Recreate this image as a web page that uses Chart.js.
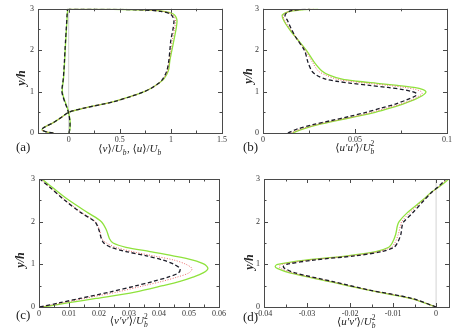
<!DOCTYPE html>
<html>
<head>
<meta charset="utf-8">
<script src="https://cdn.jsdelivr.net/npm/chart.js@4/dist/chart.umd.min.js"></script>
<style>
  html, body { margin: 0; padding: 0; background: #fff; }
  #wrap { position: relative; width: 474px; height: 335px; overflow: hidden; }
  #wrap canvas { position: absolute; }
</style>
</head>
<body>
<div id="wrap">
  <canvas id="cA" width="237" height="165" style="left:0;top:0"></canvas>
  <canvas id="cB" width="237" height="165" style="left:237px;top:0"></canvas>
  <canvas id="cC" width="237" height="170" style="left:0;top:165px"></canvas>
  <canvas id="cD" width="237" height="170" style="left:237px;top:165px"></canvas>
</div>
<script>
// ---- data ----
const yTicks = [0, 1, 2, 3];

// (a) mean velocities
const xTicksA = [0, 0.5, 1, 1.5];
const yA = [0, 0.03, 0.07, 0.12, 0.25, 0.38, 0.5, 0.6, 0.75, 0.9, 1.0, 1.1, 1.2, 1.3, 1.5, 1.75, 2.0, 2.25, 2.5, 2.7, 2.8, 2.88, 2.94, 2.97, 2.99, 3.0];
const uBlack = [-0.15, -0.22, -0.26, -0.25, -0.15, -0.07, 0.0, 0.15, 0.43, 0.63, 0.74, 0.82, 0.88, 0.92, 0.96, 0.98, 0.99, 1.0, 1.02, 1.03, 1.02, 0.99, 0.9, 0.75, 0.4, 0.0];
const uRed   = [-0.15, -0.22, -0.26, -0.25, -0.15, -0.07, 0.0, 0.15, 0.43, 0.63, 0.74, 0.82, 0.88, 0.925, 0.968, 0.985, 1.0, 1.015, 1.035, 1.045, 1.035, 1.005, 0.915, 0.76, 0.41, 0.0];
const uGreen = [-0.15, -0.22, -0.26, -0.25, -0.15, -0.07, 0.0, 0.15, 0.43, 0.63, 0.74, 0.82, 0.88, 0.93, 0.975, 0.99, 1.01, 1.03, 1.05, 1.06, 1.05, 1.02, 0.93, 0.78, 0.42, 0.0];
const vBlack = [0.003, 0.006, 0.009, 0.012, 0.013, 0.007, -0.003, -0.015, -0.038, -0.058, -0.066, -0.064, -0.058, -0.053, -0.047, -0.041, -0.036, -0.030, -0.024, -0.019, -0.017, -0.015, -0.013, -0.012, -0.010, -0.010];
const vGreen = [0.004, 0.007, 0.010, 0.013, 0.015, 0.009, -0.001, -0.012, -0.034, -0.054, -0.062, -0.061, -0.056, -0.051, -0.045, -0.039, -0.034, -0.028, -0.022, -0.017, -0.015, -0.013, -0.011, -0.010, -0.009, -0.009];

// (b) <u'u'>
const xTicksB = [0, 0.05, 0.1];
const yB = [0, 0.1, 0.2, 0.3, 0.4, 0.5, 0.6, 0.7, 0.8, 0.9, 0.95, 1.0, 1.05, 1.1, 1.15, 1.2, 1.25, 1.3, 1.4, 1.5, 1.7, 2.0, 2.3, 2.5, 2.7, 2.85, 2.95, 3.0];
const uuBlack = [0.0135, 0.019, 0.027, 0.037, 0.047, 0.056, 0.064, 0.072, 0.078, 0.083, 0.0835, 0.081, 0.076, 0.068, 0.058, 0.048, 0.040, 0.034, 0.029, 0.0265, 0.0245, 0.0225, 0.018, 0.0155, 0.0135, 0.012, 0.015, 0.025];
const uuRed   = [0.015, 0.021, 0.029, 0.039, 0.050, 0.059, 0.067, 0.075, 0.081, 0.085, 0.0865, 0.086, 0.083, 0.077, 0.068, 0.057, 0.047, 0.040, 0.034, 0.030, 0.027, 0.023, 0.018, 0.015, 0.012, 0.011, 0.0155, 0.028];
const uuGreen = [0.016, 0.022, 0.030, 0.040, 0.051, 0.061, 0.069, 0.076, 0.082, 0.0865, 0.088, 0.0885, 0.087, 0.082, 0.073, 0.062, 0.051, 0.043, 0.036, 0.032, 0.028, 0.0235, 0.018, 0.0145, 0.0115, 0.0105, 0.016, 0.030];

// (c) <v'v'>
const xTicksC = [0, 0.01, 0.02, 0.03, 0.04, 0.05, 0.06];
const yC = [0, 0.1, 0.2, 0.35, 0.5, 0.6, 0.7, 0.8, 0.9, 1.0, 1.1, 1.2, 1.3, 1.4, 1.5, 1.6, 1.8, 2.0, 2.2, 2.5, 2.8, 3.0];
const vvBlack = [0.0003, 0.007, 0.0136, 0.0236, 0.0325, 0.038, 0.043, 0.0465, 0.047, 0.045, 0.0413, 0.0358, 0.029, 0.024, 0.0216, 0.0208, 0.020, 0.0186, 0.0142, 0.0086, 0.0037, 0.0003];
const vvRed   = [0.0005, 0.008, 0.015, 0.026, 0.035, 0.041, 0.046, 0.050, 0.051, 0.049, 0.045, 0.038, 0.031, 0.0255, 0.0225, 0.021, 0.0202, 0.0188, 0.0145, 0.0088, 0.0038, 0.0003];
const vvGreen = [0.0014, 0.010, 0.019, 0.032, 0.0413, 0.047, 0.0513, 0.0547, 0.0563, 0.0552, 0.0513, 0.0447, 0.037, 0.029, 0.0247, 0.0235, 0.0225, 0.0208, 0.0165, 0.010, 0.0045, 0.001];

// (d) <u'v'>
const xTicksD = [-0.04, -0.03, -0.02, -0.01, 0];
const yD = [0, 0.2, 0.4, 0.6, 0.8, 0.9, 0.95, 1.0, 1.1, 1.2, 1.3, 1.4, 1.5, 1.7, 1.9, 2.0, 2.2, 2.5, 2.7, 2.8, 3.0];
const uvBlack = [0, -0.0055, -0.0156, -0.0242, -0.0328, -0.0351, -0.0355, -0.0347, -0.0285, -0.0188, -0.0125, -0.0098, -0.009, -0.0082, -0.0079, -0.0075, -0.0055, -0.0028, -0.0009, 0.0003, 0.0023];
const uvRed   = [0, -0.0058, -0.0158, -0.0246, -0.0334, -0.0360, -0.0365, -0.0358, -0.0295, -0.0198, -0.0132, -0.0104, -0.0096, -0.0088, -0.0083, -0.0080, -0.0062, -0.0030, -0.0008, 0.0004, 0.0026];
const uvGreen = [0, -0.006, -0.016, -0.025, -0.034, -0.0368, -0.0374, -0.0368, -0.0304, -0.0207, -0.014, -0.011, -0.0102, -0.0094, -0.009, -0.0086, -0.0068, -0.0032, -0.001, 0.0005, 0.003];

// ---- helpers ----
const SERIF = "'Liberation Serif', 'DejaVu Serif', serif";
const pts = (xs, ys) => xs.map((x, i) => ({ x: x, y: ys[i] }));

const black = data => ({ data, borderColor: '#1c1c28', borderWidth: 1.3, borderDash: [4, 2.5] });
const red = data => ({ data, borderColor: '#ea6a6a', borderWidth: 1, borderDash: [1, 1.6] });
const green = data => ({ data, borderColor: '#8fe23c', borderWidth: 1.3 });
const zeroLine = () => ({ data: [{ x: 0, y: 0 }, { x: 0, y: 3 }], borderColor: '#c8c8c8', borderWidth: 0.8, tension: 0 });

function drawRich(ctx, parts, cx, base, size) {
  const sm = size * 0.68;
  const fontOf = (it, s) => (it ? 'italic ' : '') + s + 'px ' + SERIF;
  let total = 0;
  const w = parts.map(p => {
    let pw = 0;
    if (p.t) { ctx.font = fontOf(p.it, size); pw = ctx.measureText(p.t).width; }
    else {
      ctx.font = fontOf(true, sm);
      pw = Math.max(p.sub ? ctx.measureText(p.sub).width : 0, p.sup ? ctx.measureText(p.sup).width : 0) + 0.5;
    }
    total += pw;
    return pw;
  });
  let x = cx - total / 2;
  ctx.textAlign = 'left';
  ctx.textBaseline = 'alphabetic';
  parts.forEach((p, i) => {
    if (p.t) { ctx.font = fontOf(p.it, size); ctx.fillText(p.t, x, base); }
    else {
      ctx.font = fontOf(true, sm);
      if (p.sub) ctx.fillText(p.sub, x, base + size * 0.28);
      if (p.sup) { ctx.font = fontOf(false, sm); ctx.fillText(p.sup, x, base - size * 0.42); }
    }
    x += w[i];
  });
}

// frame with inner major/minor ticks on all four sides
const frameTicks = {
  id: 'frameTicks',
  afterDatasetsDraw(chart) {
    const { ctx, chartArea: a, scales } = chart;
    ctx.save();
    ctx.strokeStyle = '#4a4a4a';
    ctx.lineWidth = 1;
    ctx.strokeRect(Math.round(a.left) + 0.5, Math.round(a.top) + 0.5, Math.round(a.right - a.left), Math.round(a.bottom - a.top));
    const marks = vals => {
      const out = [];
      vals.forEach((v, i) => {
        out.push([v, 4]);
        if (i < vals.length - 1) out.push([(v + vals[i + 1]) / 2, 2.5]);
      });
      return out;
    };
    ctx.beginPath();
    marks(scales.x.ticks.map(t => t.value)).forEach(([v, len]) => {
      const px = Math.round(scales.x.getPixelForValue(v)) + 0.5;
      ctx.moveTo(px, a.bottom); ctx.lineTo(px, a.bottom - len);
      ctx.moveTo(px, a.top); ctx.lineTo(px, a.top + len);
    });
    marks(scales.y.ticks.map(t => t.value)).forEach(([v, len]) => {
      const py = Math.round(scales.y.getPixelForValue(v)) + 0.5;
      ctx.moveTo(a.left, py); ctx.lineTo(a.left + len, py);
      ctx.moveTo(a.right, py); ctx.lineTo(a.right - len, py);
    });
    ctx.stroke();
    ctx.restore();
  }
};

// axis titles and panel letter
const panelText = {
  id: 'panelText',
  afterDraw(chart, args, o) {
    const { ctx, chartArea: a } = chart;
    ctx.save();
    ctx.fillStyle = '#222';
    ctx.save();
    ctx.translate(o.yTitleX, o.yTitleY);
    ctx.rotate(-Math.PI / 2);
    ctx.textAlign = 'center';
    ctx.textBaseline = 'middle';
    ctx.font = 'italic bold 12px ' + SERIF;
    ctx.fillText('y/h', 0, 0);
    ctx.restore();
    ctx.font = '13px ' + SERIF;
    ctx.textAlign = 'left';
    ctx.textBaseline = 'middle';
    ctx.fillText(o.letter, o.letterX, o.letterY);
    drawRich(ctx, o.title, (a.left + a.right) / 2, o.titleBase, 11);
    ctx.restore();
  }
};

function makePanel(id, cfg) {
  const tickFont = { family: SERIF, size: 8 };
  new Chart(document.getElementById(id), {
    type: 'scatter',
    data: { datasets: cfg.datasets },
    options: {
      responsive: false,
      animation: false,
      showLine: true,
      elements: { point: { radius: 0 }, line: { tension: 0.3, fill: false } },
      layout: { padding: { left: 0, top: cfg.area.t, right: cfg.w - cfg.area.r, bottom: 0 } },
      plugins: {
        legend: { display: false },
        tooltip: { enabled: false },
        panelText: cfg.text
      },
      scales: {
        x: {
          type: 'linear', min: cfg.xMin, max: cfg.xMax,
          afterBuildTicks: s => { s.ticks = cfg.xTicks.map(v => ({ value: v })); },
          afterFit: s => { s.height = cfg.h - cfg.area.b; },
          grid: { display: false, drawTicks: false },
          border: { display: false },
          ticks: { padding: 2, maxRotation: 0, color: '#333', font: tickFont, callback: v => String(+v.toFixed(3)) }
        },
        y: {
          type: 'linear', min: 0, max: 3,
          afterBuildTicks: s => { s.ticks = yTicks.map(v => ({ value: v })); },
          afterFit: s => { s.width = cfg.area.l; },
          grid: { display: false, drawTicks: false },
          border: { display: false },
          ticks: { padding: 4, color: '#333', font: tickFont, callback: v => String(v) }
        }
      }
    },
    plugins: [frameTicks, panelText]
  });
}

makePanel('cA', {
  w: 237, h: 165, area: { l: 38, r: 222, t: 4, b: 133 },
  xMin: -0.3, xMax: 1.5, xTicks: xTicksA,
  datasets: [black(pts(uBlack, yA)), black(pts(vBlack, yA)), red(pts(uRed, yA)), green(pts(uGreen, yA)), green(pts(vGreen, yA)), zeroLine()],
  text: {
    yTitleX: 22, yTitleY: 78, letter: '(a)', letterX: 16, letterY: 148, titleBase: 152,
    title: [{ t: '⟨' }, { t: 'v', it: 1 }, { t: '⟩/' }, { t: 'U', it: 1 }, { sub: 'b' }, { t: ', ⟨' }, { t: 'u', it: 1 }, { t: '⟩/' }, { t: 'U', it: 1 }, { sub: 'b' }]
  }
});

makePanel('cB', {
  w: 237, h: 165, area: { l: 26, r: 210, t: 4, b: 133 },
  xMin: 0, xMax: 0.1, xTicks: xTicksB,
  datasets: [black(pts(uuBlack, yB)), red(pts(uuRed, yB)), green(pts(uuGreen, yB))],
  text: {
    yTitleX: 12, yTitleY: 76, letter: '(b)', letterX: 6, letterY: 148, titleBase: 151,
    title: [{ t: '⟨' }, { t: 'u′u′', it: 1 }, { t: '⟩/' }, { t: 'U', it: 1 }, { sub: 'b', sup: '2' }]
  }
});

makePanel('cC', {
  w: 237, h: 170, area: { l: 39, r: 219, t: 14, b: 142 },
  xMin: 0, xMax: 0.06, xTicks: xTicksC,
  datasets: [black(pts(vvBlack, yC)), red(pts(vvRed, yC)), green(pts(vvGreen, yC))],
  text: {
    yTitleX: 21, yTitleY: 95, letter: '(c)', letterX: 16, letterY: 151, titleBase: 159,
    title: [{ t: '⟨' }, { t: 'v′v′', it: 1 }, { t: '⟩/' }, { t: 'U', it: 1 }, { sub: 'b', sup: '2' }]
  }
});

makePanel('cD', {
  w: 237, h: 170, area: { l: 27, r: 212, t: 14, b: 142 },
  xMin: -0.04, xMax: 0.003, xTicks: xTicksD,
  datasets: [black(pts(uvBlack, yD)), red(pts(uvRed, yD)), green(pts(uvGreen, yD)), zeroLine()],
  text: {
    yTitleX: 13, yTitleY: 97, letter: '(d)', letterX: 6, letterY: 153, titleBase: 160,
    title: [{ t: '⟨' }, { t: 'u′v′', it: 1 }, { t: '⟩/' }, { t: 'U', it: 1 }, { sub: 'b', sup: '2' }]
  }
});
</script>
</body>
</html>
